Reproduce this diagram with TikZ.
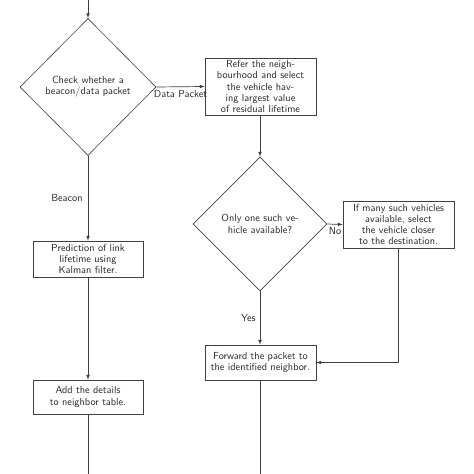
\documentclass[tikz,border=0pt]{standalone}
\usepackage{fontspec}
\usepackage{tikz}
\usetikzlibrary{shapes.geometric}

\begin{document}
\begin{tikzpicture}[x=1bp,y=1bp]
    \tikzstyle{every node}+=[inner sep=0pt, font=\sffamily\fontsize{10.3}{11.3}\selectfont, text=black!85]
    \tikzstyle{decision}=[draw=black!75, line width=0.6pt, diamond, align=center]
    \tikzstyle{block}=[draw=black!75, line width=0.6pt, rectangle, align=center, minimum width=111bp]
    \tikzstyle{flow}=[draw=black!75, line width=0.7pt, -latex]
    \tikzstyle{line}=[draw=black!75, line width=0.7pt]
    \useasboundingbox (0,0) rectangle (474,-474);
    \coordinate (start) at (88,0);
    \node [decision, minimum width=136bp, minimum height=137bp] (check) at (88,-87) {Check whether a\\beacon/data packet};
    \node [block, minimum height=57bp] (refer) at (260.5,-86.5) {Refer the neigh-\\bourhood and select\\the vehicle hav-\\ing largest value\\of residual lifetime};
    \node [decision, minimum width=134bp, minimum height=134bp] (only) at (260,-224) {Only one such ve-\\hicle available?};
    \node [block, minimum height=47bp] (many) at (398.5,-224.5) {If many such vehicles\\available, select\\the vehicle closer\\to the destination.};
    \node [block, minimum height=35bp] (forward) at (260.5,-362.5) {Forward the packet to\\the identified neighbor.};
    \node [block, minimum width=110bp, minimum height=36bp] (predict) at (88,-259) {Prediction of link\\lifetime using\\Kalman filter.};
    \node [block, minimum width=110bp, minimum height=34bp] (add) at (88,-397) {Add the details\\to neighbor table.};
    \coordinate (endleft) at (88,-474);
    \coordinate (endright) at (260,-474);
    \draw [flow] (start) -- (check.north);
    \draw [flow] (check.east) -- (refer.west) node [midway, below=3bp] {Data Packet};
    \draw [flow] (refer.south -| only.north) -- (only.north);
    \draw [flow] (only.east) -- (many.west) node [midway, below=3bp] {No};
    \draw [flow] (only.south) -- (only.south |- forward.north) node [midway, left=4bp] {Yes};
    \draw [flow] (many.south) |- (forward.east);
    \draw [line] (forward.south -| only.south) -- (endright);
    \draw [flow] (check.south) -- (predict.north) node [midway, left=5bp] {Beacon};
    \draw [flow] (predict.south) -- (add.north);
    \draw [line] (add.south) -- (endleft);
\end{tikzpicture}
\end{document}
